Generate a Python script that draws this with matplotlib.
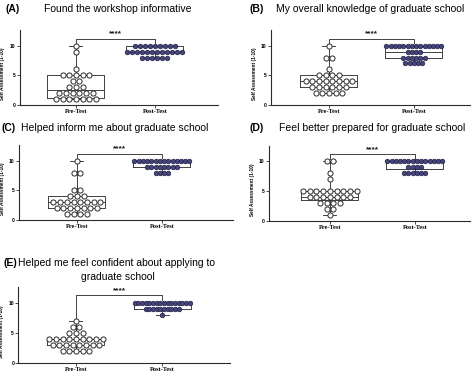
import numpy as np
import matplotlib
matplotlib.use('Agg')
import matplotlib.pyplot as plt

plt.rcParams['font.family'] = ['Liberation Sans', 'DejaVu Sans']

W, H = 474, 375
DPI = 100

GROUPS = ['Pre-Test', 'Post-Test']
Y_TICKS = [0, 5, 10]
Y_LABEL = 'Self Assessment (1-10)'
SIG = '****'

LETTERS = ['(A)', '(B)', '(C)', '(D)', '(E)']
TITLES = ['Found the workshop informative',
          'My overall knowledge of graduate school',
          'Helped inform me about graduate school',
          'Feel better prepared for graduate school',
          'Helped me feel confident about applying to\ngraduate school']

# score levels and number of respondents at each level
A_PRE_LEVELS = [1, 2, 3, 4, 5, 6, 9, 10]
A_PRE_COUNTS = [7, 6, 3, 2, 5, 1, 1, 1]
A_POST_LEVELS = [8, 9, 10]
A_POST_COUNTS = [6, 12, 9]

B_PRE_LEVELS = [2, 3, 4, 5, 6, 8, 10]
B_PRE_COUNTS = [5, 6, 8, 4, 1, 2, 1]
B_POST_LEVELS = [7, 8, 9, 10]
B_POST_COUNTS = [5, 6, 4, 14]

C_PRE_LEVELS = [1, 2, 3, 4, 5, 8, 10]
C_PRE_COUNTS = [4, 7, 8, 3, 2, 2, 1]
C_POST_LEVELS = [8, 9, 10]
C_POST_COUNTS = [4, 8, 14]

D_PRE_LEVELS = [1, 2, 3, 4, 5, 7, 8, 10]
D_PRE_COUNTS = [1, 2, 4, 7, 9, 1, 1, 2]
D_POST_LEVELS = [8, 9, 10]
D_POST_COUNTS = [6, 4, 14]

E_PRE_LEVELS = [2, 3, 4, 5, 6, 7]
E_PRE_COUNTS = [5, 8, 9, 3, 2, 1]
E_POST_LEVELS = [8, 9, 10]
E_POST_COUNTS = [1, 10, 16]

PANELS = [
    (A_PRE_LEVELS, A_PRE_COUNTS, A_POST_LEVELS, A_POST_COUNTS),
    (B_PRE_LEVELS, B_PRE_COUNTS, B_POST_LEVELS, B_POST_COUNTS),
    (C_PRE_LEVELS, C_PRE_COUNTS, C_POST_LEVELS, C_POST_COUNTS),
    (D_PRE_LEVELS, D_PRE_COUNTS, D_POST_LEVELS, D_POST_COUNTS),
    (E_PRE_LEVELS, E_PRE_COUNTS, E_POST_LEVELS, E_POST_COUNTS),
]

# layout: (left px, right px, y-zero px, px per unit, xlim)
LAYOUT = [
    (19.5, 218, 105.0, 5.93, (-0.715, 1.80)),
    (270.7, 470, 105.0, 5.93, (-0.686, 1.66)),
    (19.0, 233, 220.0, 5.93, (-0.68, 1.835)),
    (268.7, 470, 220.7, 5.93, (-0.72, 1.65)),
    (18.3, 230, 363.3, 6.06, (-0.67, 1.79)),
]
YTOP = 12.6

# title placement: (letter x, title x, y) in px
TITLE_POS = [
    (5, 44, 9),
    (249, 276, 9),
    (2, 21, 128),
    (249, 279, 128),
    (3, 18, 263),
]

LINE = '#333333'
POST_FACE = '#45457a'
POST_EDGE = '#22224a'

fig = plt.figure(figsize=(W / DPI, H / DPI), dpi=DPI)

for i, (prl, prc, pol, poc) in enumerate(PANELS):
    left, right, y0, ppu, xl = LAYOUT[i]
    top_px = y0 - YTOP * ppu
    ax = fig.add_axes([left / W, 1 - y0 / H, (right - left) / W, (y0 - top_px) / H])
    ax.set_xlim(*xl)
    ax.set_ylim(0, YTOP)
    px_per_x = (right - left) / (xl[1] - xl[0])

    pre = np.repeat(prl, prc)
    post = np.repeat(pol, poc)
    boxw = 57 / px_per_x
    capw = 13 / px_per_x
    lp = dict(color=LINE, lw=0.65)
    ax.boxplot([pre, post], positions=[0, 1], widths=boxw, whis=(0, 100),
               showfliers=False, boxprops=lp, medianprops=lp, whiskerprops=lp,
               capprops=lp, capwidths=capw, zorder=1)

    # swarm points
    for gi, (lv, ct) in enumerate([(prl, prc), (pol, poc)]):
        if gi == 0:
            sp_px = 6.7
        else:
            sp_px = min(6.7, 55.0 / (max(ct) - 1))
        sp = sp_px / px_per_x
        xs, ys = [], []
        for v, c in zip(lv, ct):
            off = (np.arange(c) - (c - 1) / 2) * sp
            xs.extend(gi + off)
            ys.extend([v] * c)
        if gi == 0:
            ax.plot(xs, ys, 'o', ms=3.7, mfc='white', mec='#2a2a2a', mew=0.7,
                    zorder=3, clip_on=False)
        else:
            ax.plot(xs, ys, 'o', ms=3.3, mfc=POST_FACE, mec=POST_EDGE, mew=0.5,
                    zorder=3, clip_on=False)

    # significance bracket
    by = 11.2
    ax.plot([0, 0, 1, 1], [pre.max() + 0.45, by, by, post.max() + 0.45],
            color=LINE, lw=0.65, clip_on=False, zorder=2)
    ax.text(0.5, by + 0.15, SIG, ha='center', va='bottom', fontsize=6,
            fontweight='bold', color='#1a1a1a')

    for s in ['top', 'right']:
        ax.spines[s].set_visible(False)
    for s in ['left', 'bottom']:
        ax.spines[s].set_linewidth(0.8)
        ax.spines[s].set_color('#2a2a2a')
    ax.set_yticks(Y_TICKS)
    ax.set_yticklabels([str(t) for t in Y_TICKS], fontsize=3.6, fontweight='bold')
    ax.set_xticks([0, 1])
    ax.set_xticklabels(GROUPS, fontsize=4.6, fontweight='bold',
                       family=['Liberation Serif', 'DejaVu Serif'])
    ax.tick_params(axis='both', length=2, width=0.6, pad=1, color='#2a2a2a')
    ax.set_ylabel(Y_LABEL, fontsize=3.4, fontweight='bold')
    ax.yaxis.set_label_coords(-14 / (right - left), 5.2 / YTOP)

    lx, tx, ty = TITLE_POS[i]
    fig.text(lx / W, 1 - ty / H, LETTERS[i], fontsize=7.5, fontweight='bold',
             ha='left', va='center')
    if i == 4:
        lines = TITLES[i].split('\n')
        fig.text(tx / W, 1 - ty / H, lines[0], fontsize=7.5, ha='left', va='center')
        fig.text(118 / W, 1 - 277 / H, lines[1], fontsize=7.5, ha='center', va='center')
    else:
        fig.text(tx / W, 1 - ty / H, TITLES[i], fontsize=7.5, ha='left', va='center')

fig.savefig('out.png', dpi=DPI)
